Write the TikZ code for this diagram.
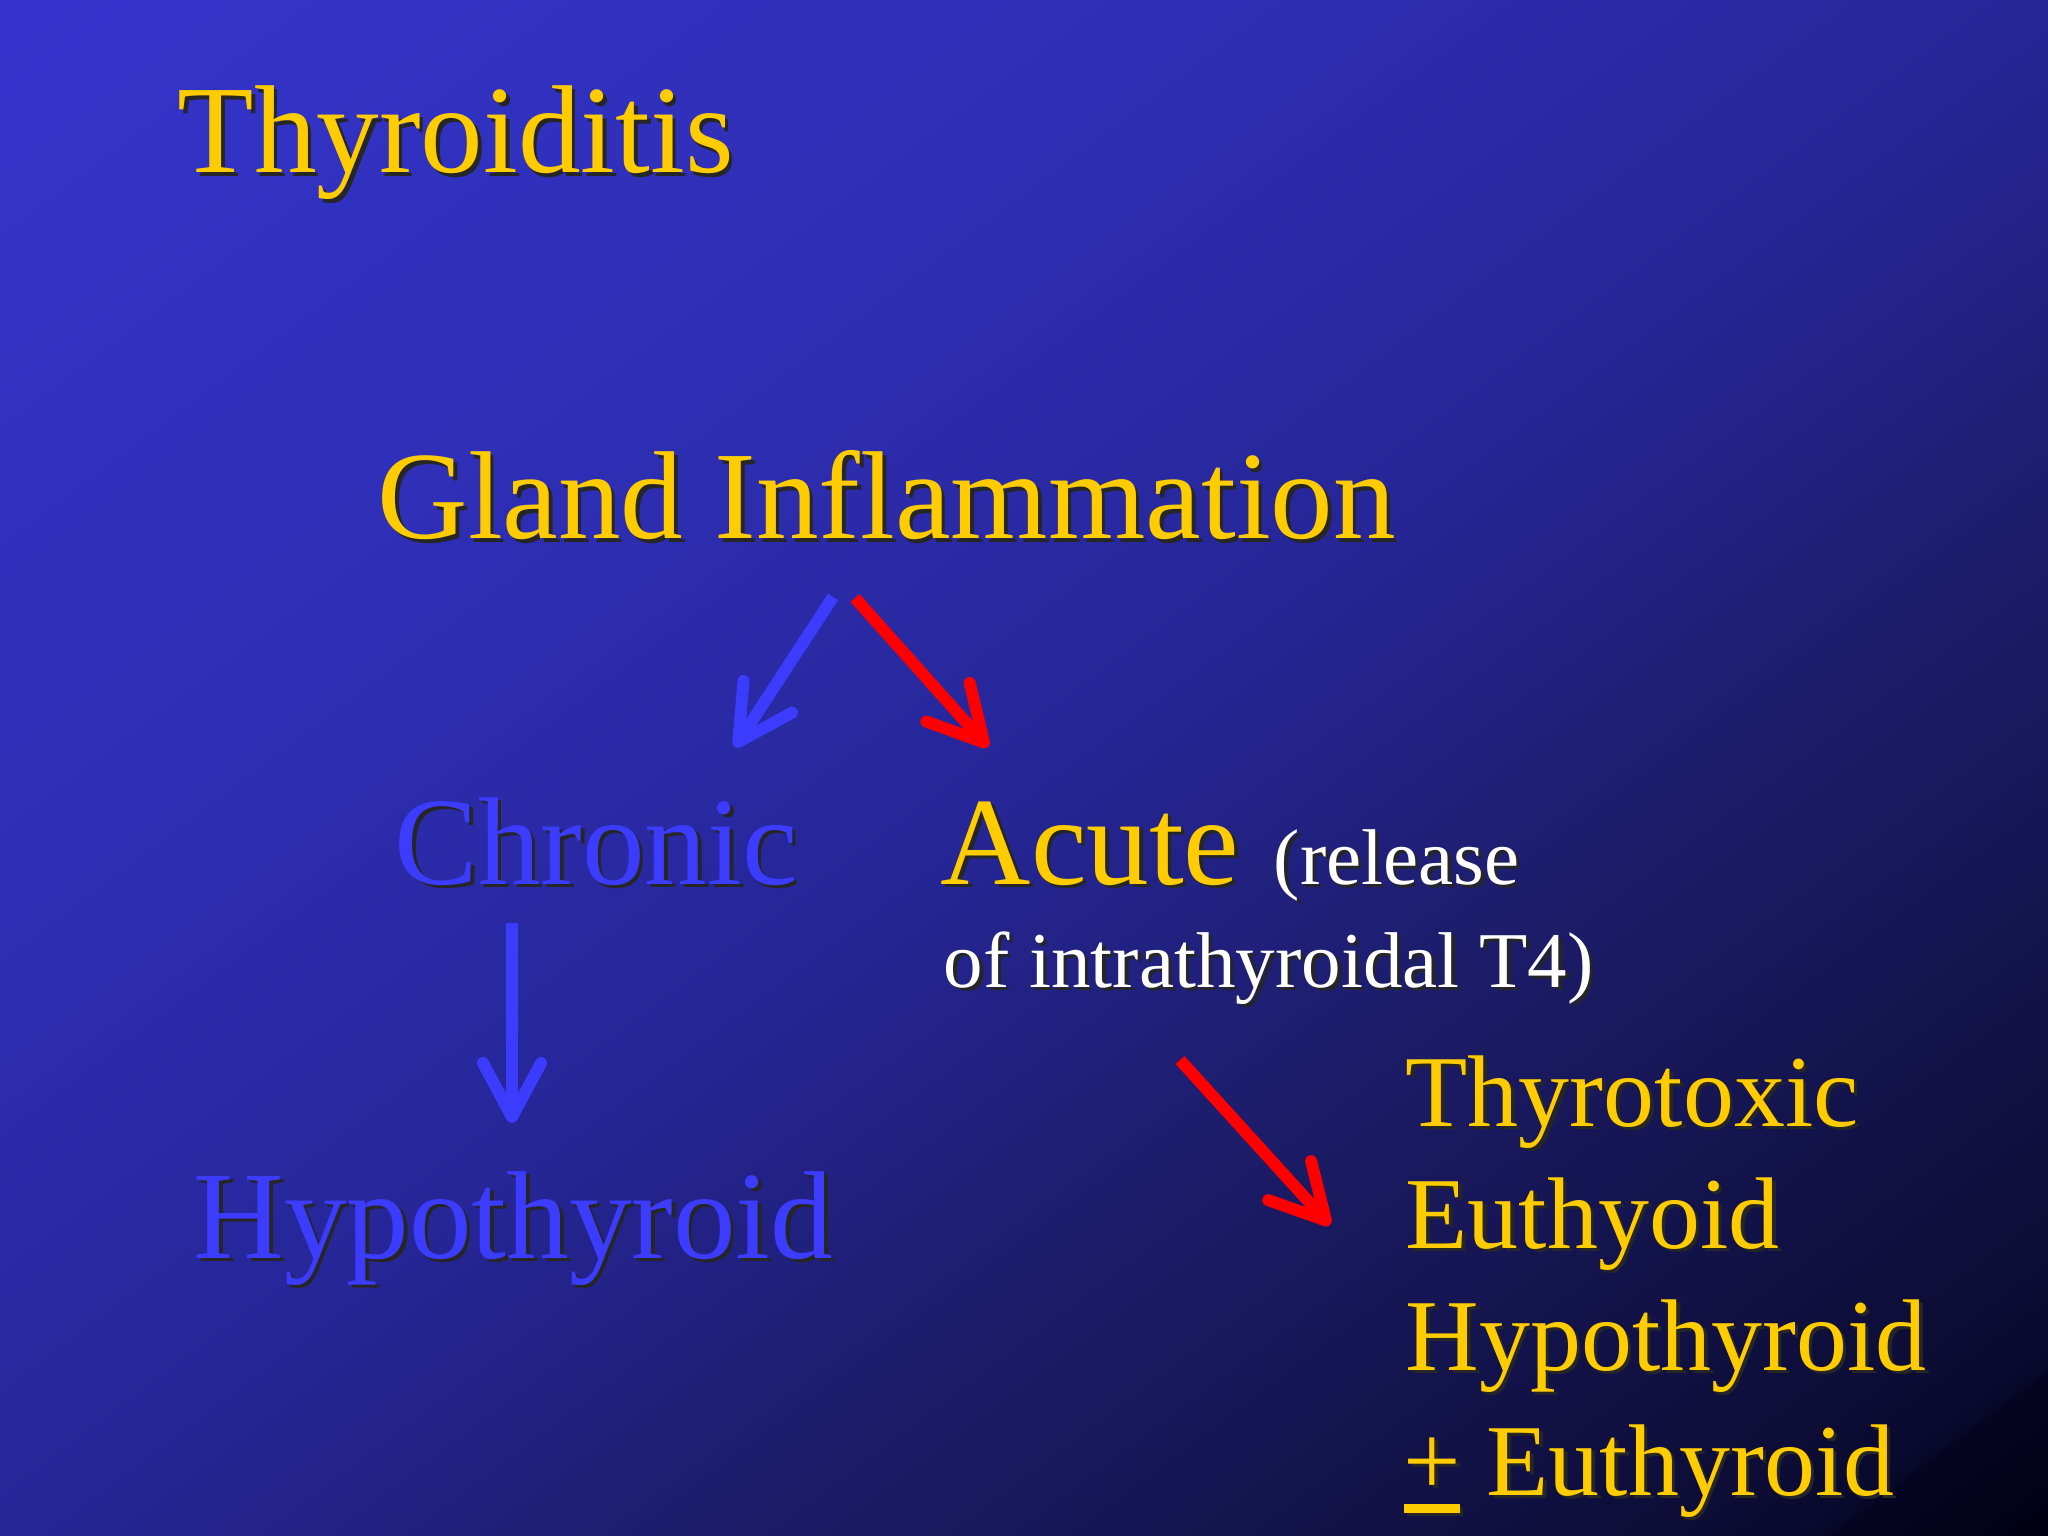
\documentclass[tikz,border=0pt]{standalone}
\usepackage{fontspec}
\setmainfont{Liberation Serif}
\usetikzlibrary{arrows.meta}

\definecolor{slideyellow}{RGB}{255,204,0}
\definecolor{slideblue}{RGB}{60,60,255}
\definecolor{slidered}{RGB}{255,0,0}
\definecolor{bgA}{RGB}{52,52,205}
\definecolor{bgB}{RGB}{46,46,180}
\definecolor{bgC}{RGB}{38,38,152}
\definecolor{bgD}{RGB}{28,28,105}
\definecolor{bgE}{RGB}{20,20,78}
\definecolor{bgF}{RGB}{12,12,52}
\definecolor{bgG}{RGB}{9,9,44}
\definecolor{bgH}{RGB}{5,5,34}
\definecolor{bgI}{RGB}{0,0,20}
\pgfdeclarehorizontalshading{slidebg}{100bp}{color(0bp)=(bgA); color(14.64bp)=(bgA);
  color(35.85bp)=(bgB); color(50bp)=(bgC); color(62.72bp)=(bgD); color(71.2bp)=(bgE);
  color(79.69bp)=(bgF); color(81.46bp)=(bgG); color(81.82bp)=(bgH); color(85.36bp)=(bgI);
  color(100bp)=(bgI)}

% text with a small drop shadow
\newcommand\shtext[1]{\makebox[0pt][l]{\hspace{1pt}\raisebox{-1pt}{\color{black!85}#1}}#1}
% underlined plus
\newcommand\plusline{\rlap{\rule[-5pt]{0.55em}{2.5pt}}+}

\begin{document}
\begin{tikzpicture}
  [big/.style={font=\fontsize{35.6}{42}\selectfont,anchor=base west,inner sep=0pt},
   small/.style={font=\fontsize{22.5}{27}\selectfont,anchor=base west,inner sep=0pt,text=white},
   listtext/.style={font=\fontsize{29}{35}\selectfont,anchor=base west,inner sep=0pt,text=slideyellow},
   flow/.style={every edge/.style={draw=#1,line width=3.4pt,
     -{Straight Barb[length=5.4mm,width=5.8mm,round]}}}]
  \useasboundingbox (0,0) rectangle (20.48,-15.36);
  \begin{scope}[transform canvas={xscale=1.33333}]
    \shade[shading=slidebg,shading angle=-45] (0,0) rectangle (15.36,-15.36);
  \end{scope}

  \node[big,text=slideyellow] (title) at (1.77,-1.73) {\shtext{Thyroiditis}};
  \node[big,text=slideyellow] (gland) at (3.77,-5.39) {\shtext{Gland Inflammation}};
  \node[big,text=slideblue] (chronic) at (3.94,-8.84) {\shtext{Chronic}};
  \node[big,text=slideyellow] (acute) at (9.40,-8.84) {\shtext{Acute}};
  \node[small] (release) at (12.73,-8.84) {\shtext{(release}};
  \node[small] (intra) at (9.43,-9.87) {\shtext{of intrathyroidal T4)}};
  \node[big,text=slideblue] (hypo) at (1.93,-12.58) {\shtext{Hypothyroid}};
  \node[listtext] (thyrotox) at (14.05,-11.26) {\shtext{Thyrotoxic}};
  \node[listtext] (euthy) at (14.05,-12.48) {\shtext{Euthyoid}};
  \node[listtext] (hypo2) at (14.05,-13.70) {\shtext{Hypothyroid}};
  \node[listtext] (pmeuthy) at (14.03,-14.95) {\shtext{\plusline{} Euthyroid}};

  \coordinate (b1s) at (8.33,-5.97);
  \coordinate (b1e) at (7.35,-7.47);
  \coordinate (r1s) at (8.55,-5.98);
  \coordinate (r1e) at (9.88,-7.47);
  \coordinate (b2s) at (5.12,-9.23);
  \coordinate (b2e) at (5.12,-11.23);
  \coordinate (r2s) at (11.80,-10.60);
  \coordinate (r2e) at (13.30,-12.25);

  \path[flow=slideblue]
        (b1s) edge (b1e)
        (b2s) edge (b2e);
  \path[flow=slidered]
        (r1s) edge (r1e)
        (r2s) edge (r2e);

\end{tikzpicture}
\end{document}
